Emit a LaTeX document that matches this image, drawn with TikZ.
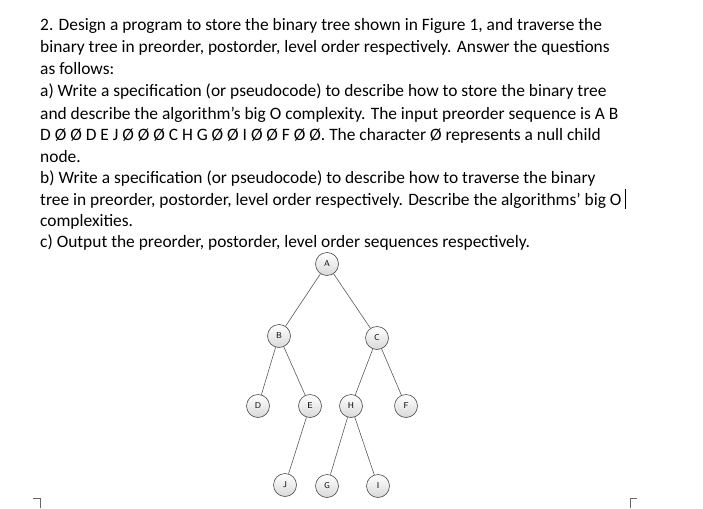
\documentclass[tikz,border=0pt]{standalone}
\usepackage{fontspec}
\setmainfont{Carlito}
\begin{document}
\begin{tikzpicture}[x=1pt,y=-1pt,
  ln/.style={anchor=base west,inner sep=0pt,font=\fontsize{17.4}{20}\selectfont},
  tn/.style={circle,draw=black!70,line width=0.6pt,minimum size=23pt,inner sep=0pt,
    top color=white,bottom color=black!15,font=\sffamily\fontsize{8.5}{9}\selectfont},
  ed/.style={draw=black!65,line width=0.6pt}]
\useasboundingbox (0,0) rectangle (703,508);
\node[ln] (l1) at (40,31) {2. Design a program to store the binary tree shown in Figure 1, and traverse the};
\node[ln] (l2) at (40,53) {binary tree in preorder, postorder, level order respectively. Answer the questions};
\node[ln] (l3) at (40,75) {as follows:};
\node[ln] (l4) at (40,97) {a) Write a specification (or pseudocode) to describe how to store the binary tree};
\node[ln] (l5) at (40,119) {and describe the algorithm’s big O complexity. The input preorder sequence is A B};
\node[ln] (l6) at (40,140) {D Ø Ø D E J Ø Ø Ø C H G Ø Ø I Ø Ø F Ø Ø. The character Ø represents a null child};
\node[ln] (l7) at (40,162) {node.};
\node[ln] (l8) at (40,183) {b) Write a specification (or pseudocode) to describe how to traverse the binary};
\node[ln] (l9) at (40,205) {tree in preorder, postorder, level order respectively. Describe the algorithms’ big O};
\node[ln] (l10) at (40,226) {complexities.};
\node[ln] (l11) at (40,247) {c) Output the preorder, postorder, level order sequences respectively.};
\draw[line width=0.8pt] (l9.base east) ++(4,-16) -- ++(0,20);
\node[tn] (A) at (327,264) {A};
\node[tn] (B) at (279,336) {B};
\node[tn] (C) at (377,338) {C};
\node[tn] (D) at (258,406) {D};
\node[tn] (E) at (310,406) {E};
\node[tn] (H) at (351,406) {H};
\node[tn] (F) at (406,406) {F};
\node[tn] (J) at (285,485) {J};
\node[tn] (G) at (327,486) {G};
\node[tn] (I) at (378,486) {I};
\foreach \a/\b in {A/B,A/C,B/D,B/E,C/H,C/F,E/J,H/G,H/I}
  \draw[ed] (\a) -- (\b);
\draw[black!60,line width=0.6pt] (33,498) -- (40,498) -- (40,508);
\draw[black!60,line width=0.6pt] (637,498) -- (630,498) -- (630,508);
\end{tikzpicture}
\end{document}
